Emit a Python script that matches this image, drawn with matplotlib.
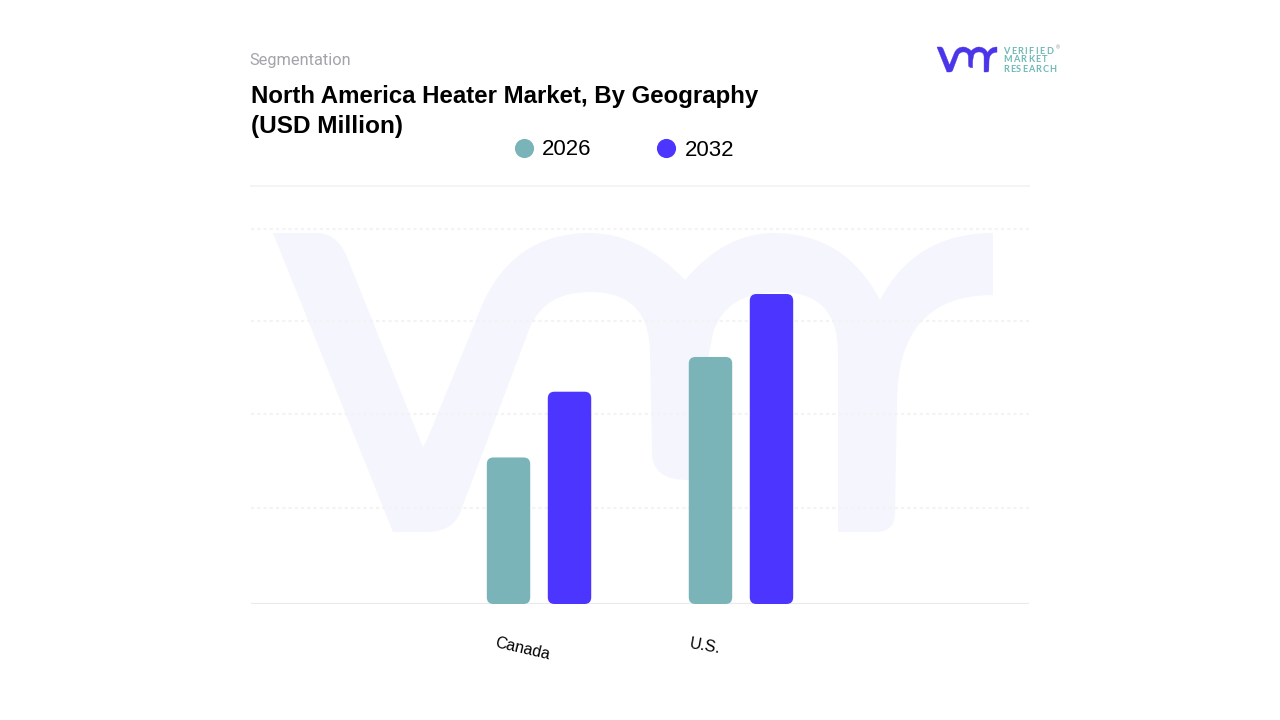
import matplotlib
matplotlib.use('Agg')
import matplotlib.pyplot as plt
from matplotlib.patches import FancyBboxPatch, PathPatch
from matplotlib.path import Path
from matplotlib.transforms import Affine2D

plt.rcParams['font.family'] = ['Liberation Sans', 'DejaVu Sans']

W, H = 1280, 720
groups = ['Canada', 'U.S.']
series = {'2026': [1.56, 2.63], '2032': [2.26, 3.30]}
colors = {'2026': '#7AB3B8', '2032': '#4B35FF'}


def swoosh():
    # big faded logo behind the bars
    M, L, C = Path.MOVETO, Path.LINETO, Path.CURVE3
    pts = [((273, 233), M), ((320, 233), L), ((338, 235), C), ((347, 257), C),
           ((420, 440), L), ((423, 447), L), ((427, 440), L), ((483, 303), L),
           ((515, 233), C), ((590, 233), C), ((640, 233), C), ((685, 280), C),
           ((725, 233), C), ((773, 233), C), ((845, 233), C), ((880, 300), C),
           ((915, 233), C), ((993, 233), C), ((993, 295), L), ((897, 295), C),
           ((897, 403), C), ((895, 513), L), ((895, 532), C), ((875, 532), C),
           ((838, 532), L), ((838, 353), L), ((838, 292), C), ((780, 292), C),
           ((725, 292), C), ((713, 333), C), ((700, 400), L), ((700, 480), L),
           ((688, 480), L), ((652, 480), C), ((652, 453), C), ((650, 353), L),
           ((650, 292), C), ((590, 292), C), ((545, 292), C), ((530, 327), C),
           ((460, 513), L), ((452, 532), C), ((427, 532), C), ((393, 532), L),
           ((273, 233), L)]
    return Path([p[0] for p in pts], [p[1] for p in pts])


def tracked(ax, fig, x, y, s, track, **kw):
    # letter-spaced text, one character at a time
    r = fig.canvas.get_renderer()
    for ch in s:
        t = ax.text(x, y, ch, va='center', ha='left', **kw)
        x += t.get_window_extent(r).width + track


fig = plt.figure(figsize=(W / 100, H / 100), dpi=100, facecolor='white')

# pixel-space layer for watermark and logo
bg = fig.add_axes([0, 0, 1, 1], zorder=0)
bg.set_xlim(0, W)
bg.set_ylim(H, 0)
bg.axis('off')
shape = swoosh()
bg.add_patch(PathPatch(shape, fc='#F5F6FD', ec='none'))

# logo, same shape scaled down
small = shape.transformed(Affine2D().translate(-273, -233).scale(0.0833, 0.0836).translate(937, 47))
bg.add_patch(PathPatch(small, fc='#4B35E8', ec='#4B35E8', lw=0.3))
for t, yy, tr in [('VERIFIED', 51, 1.4), ('MARKET', 60, 1.3), ('RESEARCH', 69, 1.0)]:
    tracked(bg, fig, 1003, yy, t, tr, color='#6DB9B5', fontsize=6.6, family='Lato', fontweight='bold')
bg.text(1056, 47.5, '®', color='#8A8FA0', fontsize=4, ha='left', va='center')

# chart axes placed on the pixel box of the plot
ax = fig.add_axes([251 / W, (H - 604) / H, 778 / W, 418 / H], zorder=1)
ax.patch.set_alpha(0)
ax.set_xlim(-1.426, 2.426)
ax.set_ylim(0, 4.45)
for s in ax.spines.values():
    s.set_visible(False)
ax.tick_params(left=False, bottom=False, labelleft=False, labelbottom=False)
ax.set_yticks([1.02, 2.02, 3.01, 3.99])
ax.grid(axis='y', color='#F3F3F6', lw=1.5, ls=(0, (1.5, 1.5)))
ax.set_axisbelow(True)
ax.axhline(0, color='#E9E9EE', lw=1.6, zorder=1)
ax.axhline(4.45, color='#F3F3F5', lw=1.3, clip_on=False, zorder=1)

bar_w = 0.215
offs = {'2026': -0.151, '2032': 0.151}
for name, vals in series.items():
    for i, v in enumerate(vals):
        ax.add_patch(FancyBboxPatch((i + offs[name] - bar_w / 2, 0), bar_w, v,
                                    boxstyle='round,pad=0,rounding_size=0.033',
                                    mutation_aspect=2.15, fc=colors[name], ec='none', zorder=3))

# category labels, slanted as in the source
bg.text(522, 649, groups[0], rotation=-13, fontsize=11.5, ha='center', va='center', color='black')
bg.text(705, 646, groups[1], rotation=-10, fontsize=11.5, ha='center', va='center', color='black')

# header
bg.text(249.5, 60, 'Segmentation', fontsize=11.8, color='#A3A3AB', ha='left', va='center', family='Roboto')
bg.text(251, 97, 'North America Heater Market, By Geography', fontsize=17.3, fontweight='bold',
        ha='left', va='center', color='black')
bg.text(251, 127, '(USD Million)', fontsize=17.6, fontweight='bold', ha='left', va='center', color='black')

# legend
bg.scatter([524], [148], s=190, color=colors['2026'], linewidths=0)
bg.scatter([666], [148], s=190, color=colors['2032'], linewidths=0)
bg.text(542, 149.5, '2026', fontsize=16, ha='left', va='center', color='black')
bg.text(685, 150, '2032', fontsize=16, ha='left', va='center', color='black')

fig.savefig('out.png', dpi=100)
